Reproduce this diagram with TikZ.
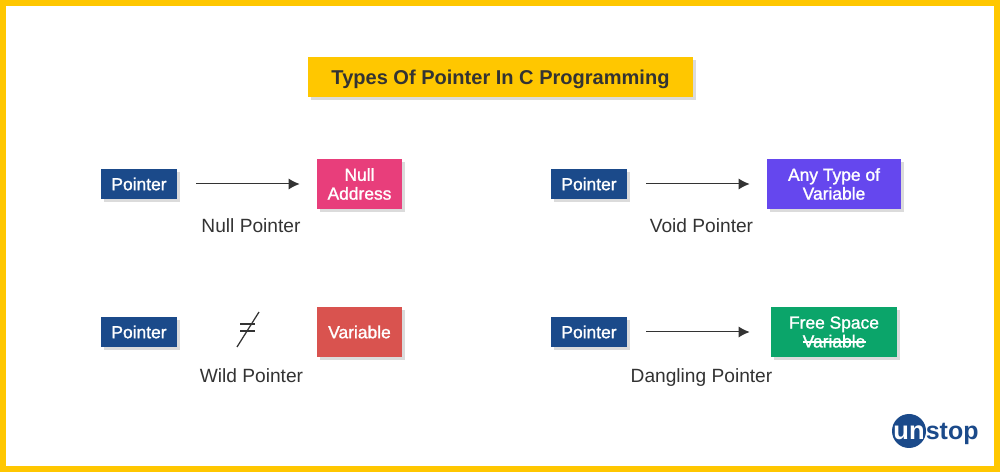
\documentclass[tikz,border=0pt]{standalone}
\usepackage{fontspec}
\setmainfont{Liberation Sans}
\newfontfamily\midfont[FakeBold=1.4]{Liberation Sans}
\usetikzlibrary{arrows.meta,shadows}
\definecolor{unyellow}{HTML}{FFC700}
\definecolor{unnavy}{HTML}{1B4A8A}
\definecolor{unpink}{HTML}{E83E7B}
\definecolor{unpurple}{HTML}{6547EE}
\definecolor{unred}{HTML}{D9534F}
\definecolor{ungreen}{HTML}{0BA56A}
\definecolor{untext}{HTML}{333333}
\tikzset{
  softshadow/.style={drop shadow={shadow xshift=0.6mm,shadow yshift=-0.6mm,opacity=0.14,fill=black}},
  flatbox/.style={inner sep=0pt,align=center,text=white,font=\fontsize{9.9}{10.7}\midfont,softshadow},
  ptrbox/.style={flatbox,fill=unnavy,minimum width=15.2mm,minimum height=6mm},
  caption/.style={inner sep=0pt,anchor=base,text=untext,font=\fontsize{10.9}{12}\selectfont},
  ptrarrow/.style={line width=0.2mm,color=untext,-{Latex[length=2.2mm,width=2.2mm]},shorten <=3.8mm,shorten >=3.4mm}
}
\begin{document}
\begin{tikzpicture}[x=2cm,y=2cm]
\useasboundingbox (0,0) rectangle (10,4.72);
\fill [white](0,0) rectangle (10,4.72);
\draw [unyellow, line width=1.2mm](0.03,0.03) rectangle (9.97,4.69);

\node (title) [flatbox,fill=unyellow,text=untext,minimum width=77mm,minimum height=8mm,text height=10.5pt,text depth=2.4pt,font=\fontsize{11.4}{14}\selectfont\bfseries] at (5.005,3.95) {Types Of Pointer In C Programming};

\node (ptrnull) [ptrbox] at (1.39,2.88) {Pointer};
\node (nulladdr) [flatbox,fill=unpink,minimum width=17mm,minimum height=10mm] at (3.595,2.88) {Null\\Address};
\node (ptrvoid) [ptrbox] at (5.89,2.88) {Pointer};
\node (anyvar) [flatbox,fill=unpurple,minimum width=26.8mm,minimum height=10mm] at (8.34,2.88) {Any Type of\\Variable};
\node (ptrwild) [ptrbox] at (1.39,1.40) {Pointer};
\node (wildvar) [flatbox,fill=unred,minimum width=17mm,minimum height=10mm] at (3.595,1.40) {Variable};
\node (ptrdang) [ptrbox] at (5.89,1.40) {Pointer};
\node (freevar) [flatbox,fill=ungreen,minimum width=25.2mm,minimum height=10mm] at (8.34,1.40) {Free Space\\Variable};

\draw [ptrarrow](ptrnull) -- (nulladdr);
\draw [ptrarrow](ptrvoid) -- (anyvar);
\draw [ptrarrow,shorten >=4.2mm](ptrdang) -- (freevar);

\draw [white, line width=0.3mm](8.03,1.30) -- (8.66,1.30);

\draw [untext, line width=0.25mm](2.37,1.25) -- (2.59,1.60);
\draw [untext, line width=0.4mm](2.40,1.475) -- (2.55,1.475);
\draw [untext, line width=0.4mm](2.40,1.41) -- (2.55,1.41);

\node (nulllabel) [caption] at (2.51,2.395) {Null Pointer};
\node (voidlabel) [caption] at (7.015,2.395) {Void Pointer};
\node (wildlabel) [caption] at (2.515,0.895) {Wild Pointer};
\node (danglabel) [caption] at (7.015,0.895) {Dangling Pointer};

\fill [unnavy](9.09,0.41) circle (0.17);
\node (logoun) [inner sep=0pt,text=white,font=\fontsize{14.5}{15}\selectfont\bfseries] at (9.09,0.395) {un};
\node (logostop) [inner sep=0pt,text=unnavy,font=\fontsize{14.2}{15}\selectfont\bfseries,anchor=west] at (9.255,0.385) {stop};
\end{tikzpicture}
\end{document}
